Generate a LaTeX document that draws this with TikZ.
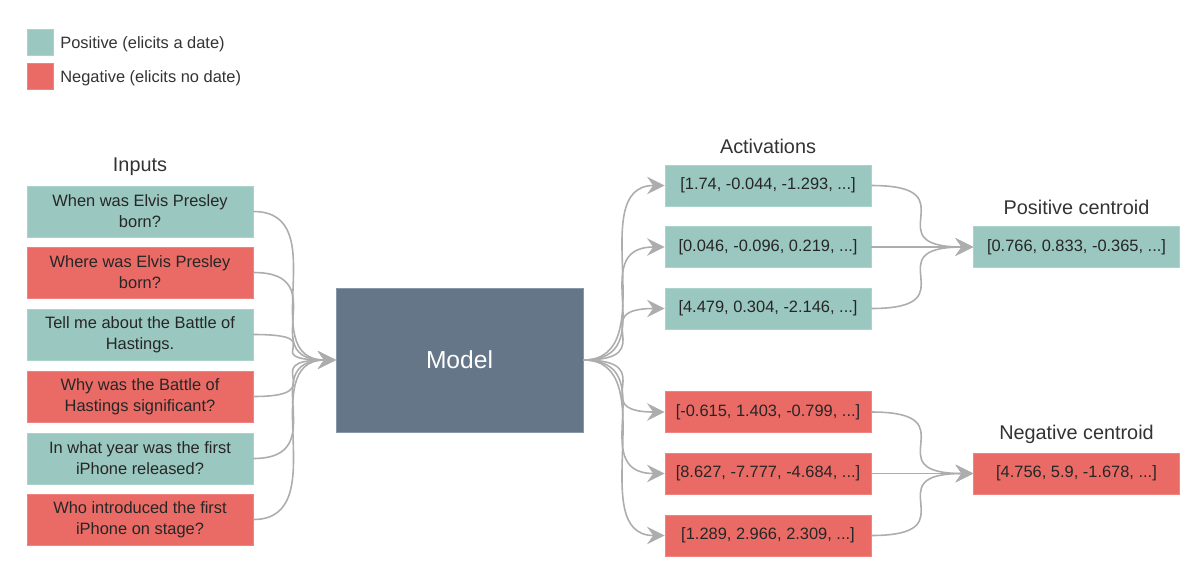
\documentclass[tikz,border=0pt]{standalone}
\usepackage{fontspec}
\setmainfont{Liberation Sans}
\usepackage{tikz}
\usetikzlibrary{arrows.meta,calc}

\definecolor{posfill}{HTML}{9AC7BF}
\definecolor{posline}{HTML}{AAD3CA}
\definecolor{negfill}{HTML}{EA6B66}
\definecolor{negline}{HTML}{F0837F}
\definecolor{modelfill}{HTML}{647687}
\definecolor{modelline}{HTML}{8797A7}
\definecolor{edgegray}{HTML}{ADADAD}
\definecolor{labelgray}{HTML}{333333}

\tikzset{
  posbox/.style={fill=posfill,draw=posline},
  negbox/.style={fill=negfill,draw=negline},
  inbox/.style={line width=0.5pt,minimum width=4.52cm,minimum height=1.02cm,align=center,inner sep=0pt,font=\fontsize{9.35}{11.9}\selectfont,text=black!85},
  actbox/.style={line width=0.5pt,minimum width=4.12cm,minimum height=0.82cm,inner sep=0pt,font=\fontsize{9.35}{11.2}\selectfont,text=black!85},
  legbox/.style={line width=0.5pt,minimum size=0.52cm,inner sep=0pt},
  legtext/.style={anchor=west,inner sep=0pt,font=\fontsize{9.35}{11.2}\selectfont,text=labelgray},
  heading/.style={font=\fontsize{11.3}{13}\selectfont,text=labelgray},
  link/.style={draw=edgegray,line width=0.9pt,-{Stealth[length=10pt,width=10pt,inset=3.5pt]}},
  scurve/.style={to path={.. controls (\tikztotarget|-\tikztostart) and (\tikztostart|-\tikztotarget) .. (\tikztotarget)}},
}

\begin{document}
\begin{tikzpicture}[x=0.02cm,y=-0.02cm]
    \useasboundingbox (0,0) rectangle (1200,582);
    % Legend
    \node[legbox,posbox] (legpos) at (40,42) {};
    \node[legbox,negbox] (legneg) at (40,76) {};
    \node[legtext] (legpostext) at (60,44.5) {Positive (elicits a date)};
    \node[legtext] (legnegtext) at (60,78) {Negative (elicits no date)};
    % Inputs
    \node[heading] (inlabel) at (140,167) {Inputs};
    \node[inbox,posbox] (in1) at (140,211.5) {When was Elvis Presley\\born?};
    \node[inbox,negbox] (in2) at (140,272.5) {Where was Elvis Presley\\born?};
    \node[inbox,posbox] (in3) at (140,334.5) {Tell me about the Battle of\\Hastings.};
    \node[inbox,negbox] (in4) at (140,396.5) {Why was the Battle of\\Hastings significant?};
    \node[inbox,posbox] (in5) at (140,458.5) {In what year was the first\\iPhone released?};
    \node[inbox,negbox] (in6) at (140,519.5) {Who introduced the first\\iPhone on stage?};
    % Model
    \node[fill=modelfill,draw=modelline,line width=0.5pt,minimum width=4.94cm,minimum height=2.88cm,
          font=\fontsize{14}{16}\selectfont,text=white] (model) at (459.5,360) {Model};
    % Activations
    \node[heading] (actlabel) at (768,146) {Activations};
    \node[actbox,posbox] (act1) at (768,185.5) {[1.74, -0.044, -1.293, ...]};
    \node[actbox,posbox] (act2) at (768,247) {[0.046, -0.096, 0.219, ...]};
    \node[actbox,posbox] (act3) at (768,308.5) {[4.479, 0.304, -2.146, ...]};
    \node[actbox,negbox] (act4) at (768,412) {[-0.615, 1.403, -0.799, ...]};
    \node[actbox,negbox] (act5) at (768,473.5) {[8.627, -7.777, -4.684, ...]};
    \node[actbox,negbox] (act6) at (768,535.5) {[1.289, 2.966, 2.309, ...]};
    % Centroids
    \node[heading] (poslabel) at (1076.5,207) {Positive centroid};
    \node[actbox,posbox] (poscen) at (1076.5,247) {[0.766, 0.833, -0.365, ...]};
    \node[heading] (neglabel) at (1076.5,434) {Negative centroid};
    \node[actbox,negbox] (negcen) at (1076.5,473.5) {[4.756, 5.9, -1.678, ...]};
    % Inputs into the model
    \draw[link] (in1.east) to[scurve] (model.west);
    \draw[link] (in2.east) to[scurve] (model.west);
    \draw[link] (in3.east) to[scurve] (model.west);
    \draw[link] (in4.east) to[scurve] (model.west);
    \draw[link] (in5.east) to[scurve] (model.west);
    \draw[link] (in6.east) to[scurve] (model.west);
    % Model out to activations
    \draw[link] (model.east) to[scurve] (act1.west);
    \draw[link] (model.east) to[scurve] (act2.west);
    \draw[link] (model.east) to[scurve] (act3.west);
    \draw[link] (model.east) to[scurve] (act4.west);
    \draw[link] (model.east) to[scurve] (act5.west);
    \draw[link] (model.east) to[scurve] (act6.west);
    % Activations to centroids
    \draw[link] (act1.east) to[scurve] (poscen.west);
    \draw[link] (act2.east) to[scurve] (poscen.west);
    \draw[link] (act3.east) to[scurve] (poscen.west);
    \draw[link] (act4.east) to[scurve] (negcen.west);
    \draw[link] (act5.east) to[scurve] (negcen.west);
    \draw[link] (act6.east) to[scurve] (negcen.west);
\end{tikzpicture}
\end{document}
